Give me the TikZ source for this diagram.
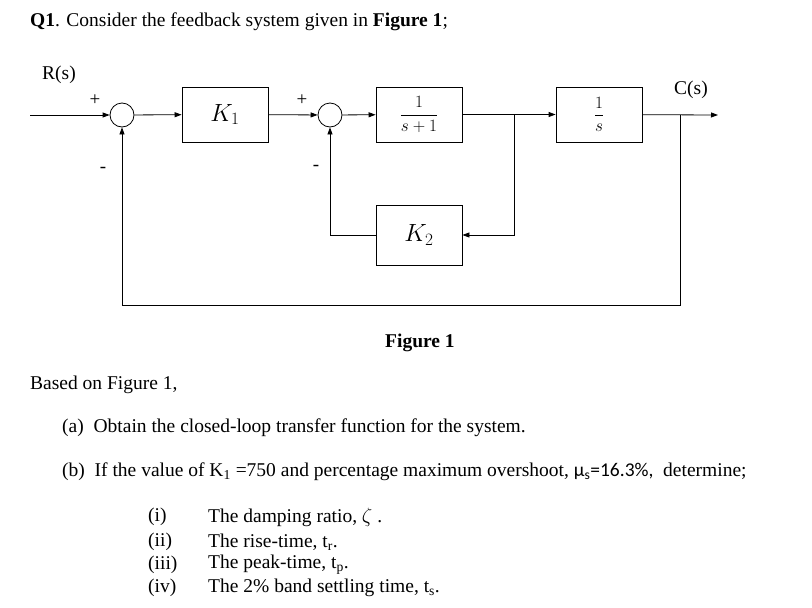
\documentclass[tikz,border=0pt]{standalone}
\usepackage{fontspec}
\setmainfont{Liberation Serif}
\newfontfamily\carl{Carlito}
\usetikzlibrary{arrows.meta}
\begin{document}
\begin{tikzpicture}[x=1pt,y=-1pt,
  blk/.style={draw,line width=0.8pt,minimum width=86pt,minimum height=55pt,inner sep=0},
  sm/.style={draw,circle,line width=0.8pt,minimum size=24pt,inner sep=0},
  ln/.style={line width=0.8pt},
  ar/.style={ln,-{Triangle[length=7pt,width=5pt]}},
  tx/.style={anchor=west,inner sep=0,font=\fontsize{19.5}{22}\selectfont}]
\useasboundingbox (0,0) rectangle (812,608);
\node[tx] (t) at (30,22) {\textbf{Q1}. Consider the feedback system given in \textbf{Figure 1};};
\node[tx] (r) at (42,75) {R(s)};
\node[tx] (c) at (674,90) {C(s)};
\coordinate (in) at (30,115);
\node[sm] (s1) at (122,115) {};
\node[blk] (k1) at (225,114.5) {\fontsize{24}{26}\selectfont$K_1$};
\node[sm] (s2) at (330,115) {};
\node[blk] (g1) at (419,114.5) {\fontsize{17}{19}\selectfont$\displaystyle\frac{1}{s+1}$};
\node[blk] (g2) at (599,114.5) {\fontsize{17}{19}\selectfont$\displaystyle\frac{1}{s}$};
\node[blk,minimum height=60pt] (k2) at (419,235) {\fontsize{24}{26}\selectfont$K_2$};
\coordinate (out) at (718,115);
\coordinate (b1) at (514,115);
\coordinate (b2) at (680,115);
\node[font=\fontsize{19}{21}\selectfont] (p1) at (95,100) {+};
\node[font=\fontsize{19}{21}\selectfont] (m1) at (103,170) {-};
\node[font=\fontsize{19}{21}\selectfont] (p2) at (302,100) {+};
\node[font=\fontsize{19}{21}\selectfont] (m2) at (316,168) {-};
\draw[ar] (in) -- (s1);
\draw[ar] (s1) -- (k1);
\draw[ar] (k1) -- (s2);
\draw[ar] (s2) -- (g1);
\draw[ar] (g1) -- (g2);
\draw[ar] (g2) -- (out);
\draw[ar] (b1) |- (k2.east) ;
\draw[ar] (k2.west) -| (s2.south);
\draw[ar] (b2) -- (680,305) -| (s1.south);
\node[font=\bfseries\fontsize{19.5}{22}\selectfont] (f) at (420,343) {Figure 1};
\node[tx] (bf) at (30,385) {Based on Figure 1,};
\node[tx] (a) at (62,428) {(a)\ \ Obtain the closed-loop transfer function for the system.};
\node[tx] (b) at (62,472) {(b)\ \ If the value of K\textsubscript{1} =750 and percentage maximum overshoot, {\carl µ\textsubscript{s}=16.3\%,}\ \ determine;};
\node[tx] (i1) at (148,517) {(i)};
\node[tx] (i2) at (148,542) {(ii)};
\node[tx] (i3) at (148,565) {(iii)};
\node[tx] (i4) at (148,588) {(iv)};
\node[tx] (j1) at (208,517) {The damping ratio, $\zeta$ .};
\node[tx] (j2) at (208,542) {The rise-time, t\textsubscript{r}.};
\node[tx] (j3) at (208,565) {The peak-time, t\textsubscript{p}.};
\node[tx] (j4) at (208,588) {The 2\% band settling time, t\textsubscript{s}.};
\end{tikzpicture}
\end{document}
